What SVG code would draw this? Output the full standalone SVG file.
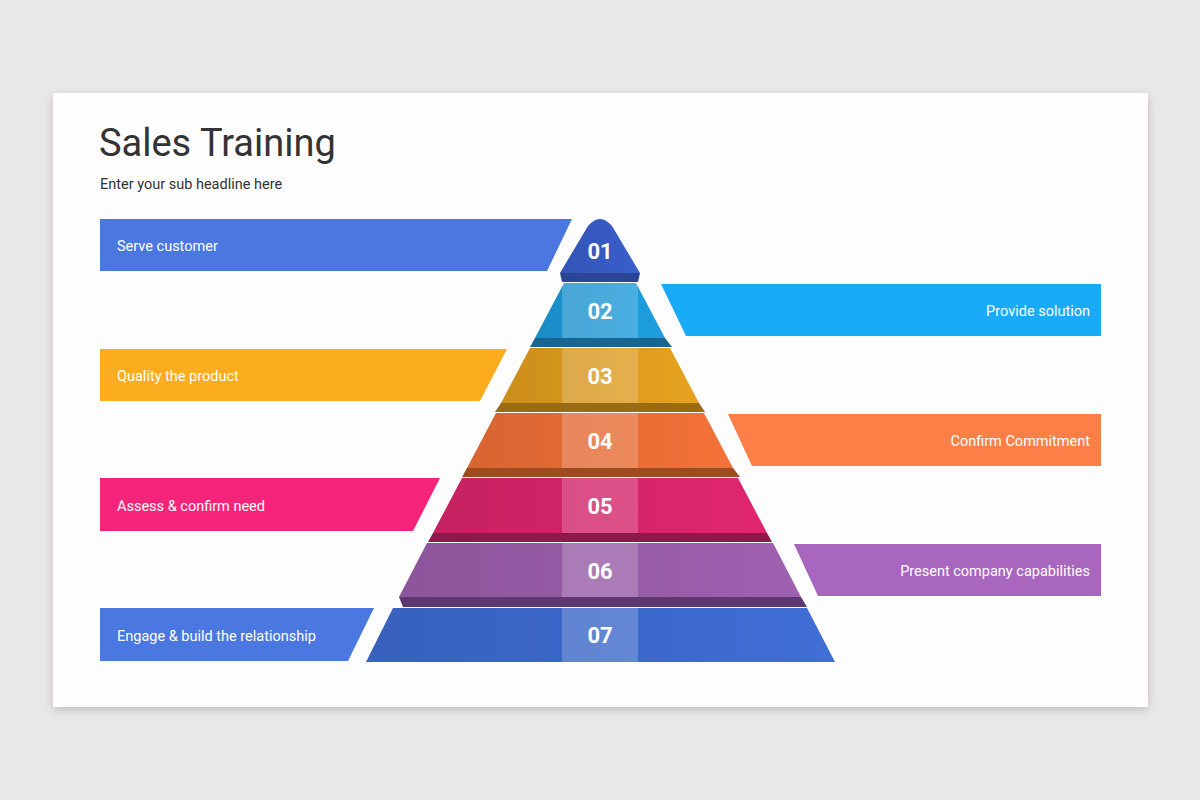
<svg xmlns="http://www.w3.org/2000/svg" width="1200" height="800" viewBox="0 0 1200 800">
<defs>
<filter id="sh" x="-5%" y="-5%" width="110%" height="115%"><feDropShadow dx="0" dy="3" stdDeviation="5" flood-color="#000" flood-opacity="0.18"/></filter>
<linearGradient id="dk" x1="0" y1="0" x2="1" y2="0"><stop offset="0" stop-color="#000" stop-opacity="0.12"/><stop offset="1" stop-color="#000" stop-opacity="0"/></linearGradient>
</defs>
<style>
.lbl{font-family:Roboto,"Liberation Sans",sans-serif;font-size:14.5px;fill:#fff}
.num{font-family:Roboto,"Liberation Sans",sans-serif;font-size:22px;font-weight:bold;fill:#fff;text-anchor:middle}
.band{fill:#fff;fill-opacity:0.2}
</style>
<rect width="1200" height="800" fill="#e9e7e8"/>
<rect x="53" y="93" width="1095" height="614" fill="#fdfdfd" filter="url(#sh)"/>
<text x="99" y="156" font-family="Roboto,'Liberation Sans',sans-serif" font-size="38" fill="#333">Sales Training</text>
<text x="100" y="189" font-family="Roboto,'Liberation Sans',sans-serif" font-size="14.5" fill="#333">Enter your sub headline here</text>
<g id="connectors"/>
<g id="label1"><polygon points="100,219 572,219 547,271 100,271" fill="#4a77e0"/><text class="lbl" x="117" y="251">Serve customer</text></g>
<g id="label2"><polygon points="661,284 1101,284 1101,336 686,336" fill="#19aaf8"/><text class="lbl" x="1090" y="316" text-anchor="end">Provide solution</text></g>
<g id="label3"><polygon points="100,349 507,349 480,401 100,401" fill="#fbad1f"/><text class="lbl" x="117" y="381">Quality the product</text></g>
<g id="label4"><polygon points="728,414 1101,414 1101,466 752,466" fill="#fb7f47"/><text class="lbl" x="1090" y="446" text-anchor="end">Confirm Commitment</text></g>
<g id="label5"><polygon points="100,478 440,478 413,531 100,531" fill="#f5247a"/><text class="lbl" x="117" y="511">Assess &amp; confirm need</text></g>
<g id="label6"><polygon points="794,544 1101,544 1101,596 818,596" fill="#a966be"/><text class="lbl" x="1090" y="576" text-anchor="end">Present company capabilities</text></g>
<g id="label7"><polygon points="100,608 374,608 348,661 100,661" fill="#4a77e0"/><text class="lbl" x="117" y="641">Engage &amp; build the relationship</text></g>
<g id="level1">
<path d="M560,273 L588,226 Q600,212 612,226 L640,273 Z" fill="#3a5fcd"/>
<path d="M560,273 L588,226 Q600,212 612,226 L640,273 Z" fill="url(#dk)"/>
<polygon points="560,273 640,273 638,282 562,282" fill="#2a4595"/>
<text class="num" x="600" y="259">01</text></g>
<g id="level2">
<polygon points="564,283 636,283 665,338 535,338" fill="#1e9fe0"/><polygon points="564,283 636,283 665,338 535,338" fill="url(#dk)"/>
<rect class="band" x="562" y="283" width="76" height="55"/>
<polygon points="535,338 665,338 672,347 530,347" fill="#1a6590"/>
<text class="num" x="600" y="319">02</text></g>
<g id="level3">
<polygon points="530,348 670,348 699,403 501,403" fill="#e7a21f"/><polygon points="530,348 670,348 699,403 501,403" fill="url(#dk)"/>
<rect class="band" x="562" y="348" width="76" height="55"/>
<polygon points="501,403 699,403 705,412 495,412" fill="#9a6a15"/>
<text class="num" x="600" y="384">03</text></g>
<g id="level4">
<polygon points="496,413 704,413 733,468 467,468" fill="#f47238"/><polygon points="496,413 704,413 733,468 467,468" fill="url(#dk)"/>
<rect class="band" x="562" y="413" width="76" height="55"/>
<polygon points="467,468 733,468 740,477 462,477" fill="#a04a20"/>
<text class="num" x="600" y="449">04</text></g>
<g id="level5">
<polygon points="462,478 738,478 767,533 433,533" fill="#e0266f"/><polygon points="462,478 738,478 767,533 433,533" fill="url(#dk)"/>
<rect class="band" x="562" y="478" width="76" height="55"/>
<polygon points="433,533 767,533 772,542 428,542" fill="#8c1a48"/>
<text class="num" x="600" y="514">05</text></g>
<g id="level6">
<polygon points="427,543 773,543 801,597 399,597" fill="#a060b0"/><polygon points="427,543 773,543 801,597 399,597" fill="url(#dk)"/>
<rect class="band" x="562" y="543" width="76" height="54"/>
<polygon points="399,597 801,597 807,607 403,607" fill="#5e3870"/>
<text class="num" x="600" y="579">06</text></g>
<g id="level7">
<polygon points="393,608 807,608 835,662 366,662" fill="#3f6ed6"/><polygon points="393,608 807,608 835,662 366,662" fill="url(#dk)"/>
<rect class="band" x="562" y="608" width="76" height="54"/>
<text class="num" x="600" y="643">07</text></g>
</svg>
